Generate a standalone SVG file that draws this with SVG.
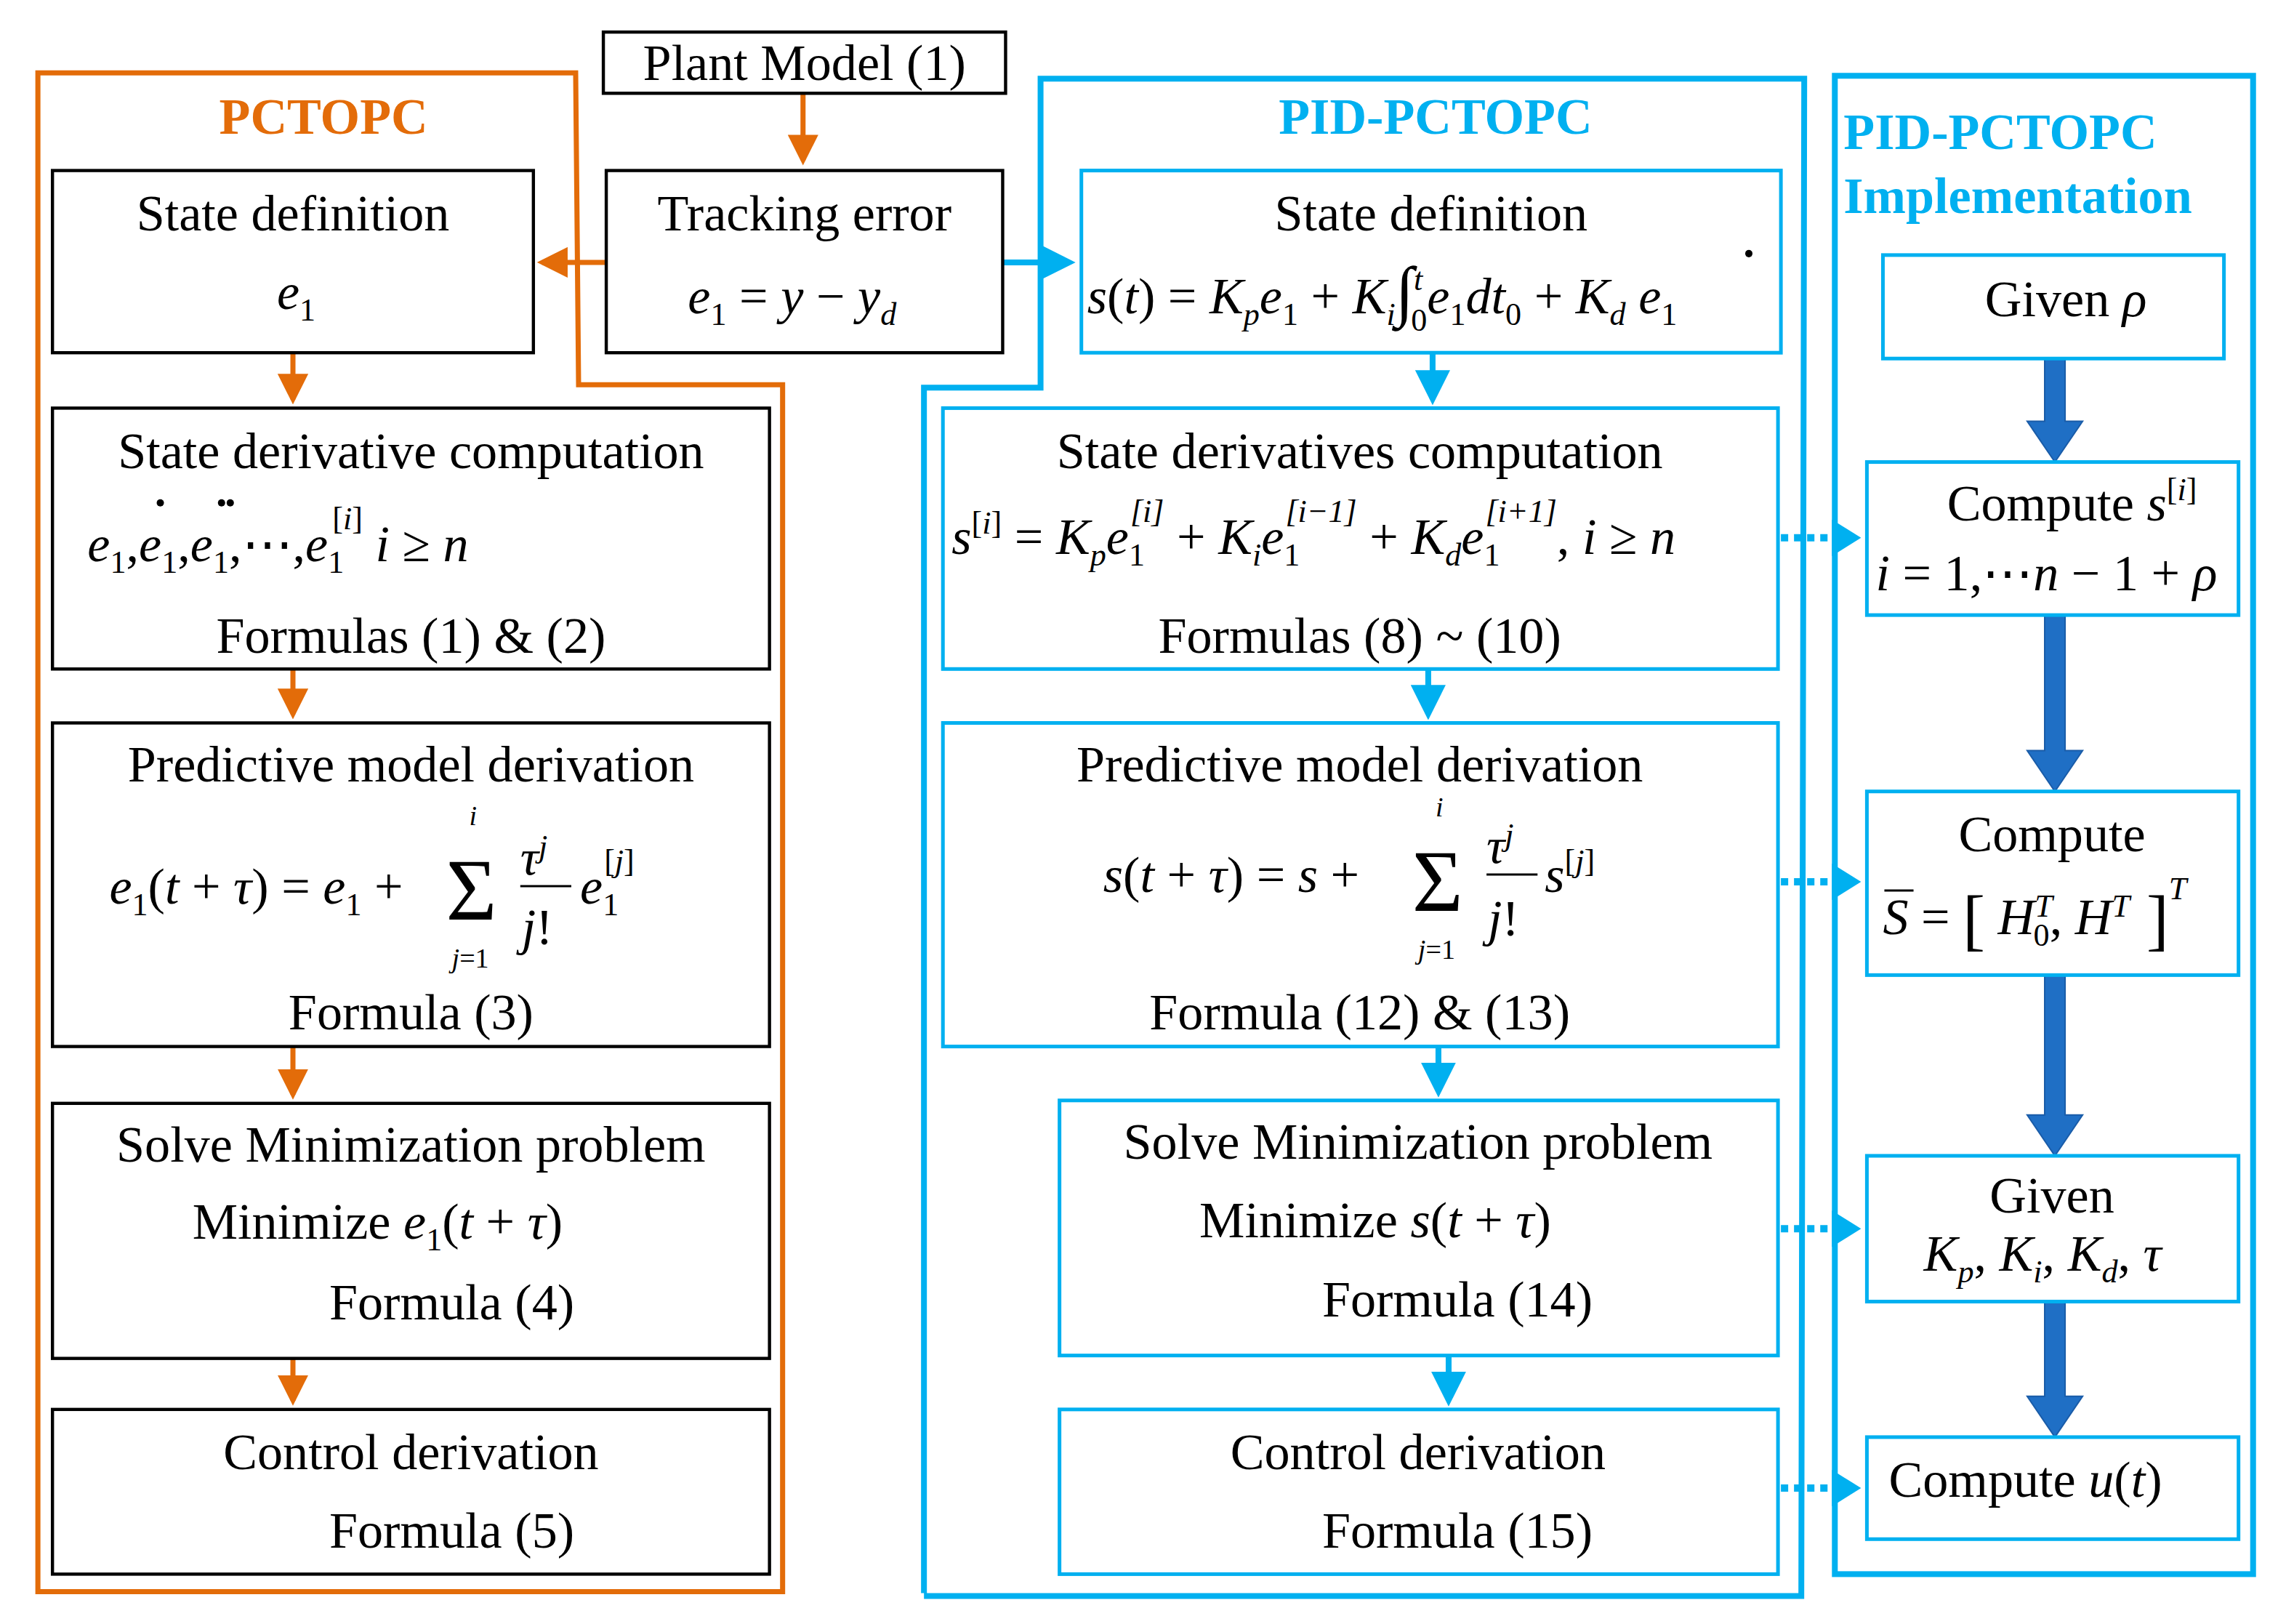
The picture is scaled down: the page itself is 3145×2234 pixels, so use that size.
<svg xmlns="http://www.w3.org/2000/svg" width="3145" height="2234" viewBox="0 0 3145 2234">
<style>
.t{font-family:"Liberation Serif",serif;font-size:35px;fill:#000}
.m{font-family:"Liberation Serif",serif;font-size:35px;font-style:italic;fill:#000}
.s{font-size:22px}
.ls{font-family:"Liberation Serif",serif;font-size:19px;font-style:italic;fill:#000}
.sg{font-family:"Liberation Serif",serif;font-size:60px;fill:#000}
.bk{fill:#fff;stroke:#000;stroke-width:2.2}
.bl{fill:#fff;stroke:#00B0F0;stroke-width:2.5}
.or{stroke:#E36C09;stroke-width:3.5;fill:none}
.cy{stroke:#00B0F0;stroke-width:4;fill:none}
.dot{stroke:#00B0F0;stroke-width:5;stroke-dasharray:5 4;fill:none}
.ttl{font-family:"Liberation Serif",serif;font-weight:bold;font-size:35px}
.fat{fill:#1F6FC5;stroke:#1A5CA8;stroke-width:1}
</style>
<defs>
<marker id="ao" markerWidth="6" markerHeight="6" refX="5" refY="3" orient="auto" markerUnits="strokeWidth"><path d="M0,0L6,3L0,6z" fill="#E36C09"/></marker>
<marker id="ab" markerWidth="6" markerHeight="6" refX="5" refY="3" orient="auto" markerUnits="strokeWidth"><path d="M0,0L6,3L0,6z" fill="#00B0F0"/></marker>
<marker id="ad" markerWidth="4" markerHeight="5" refX="3" refY="2.5" orient="auto" markerUnits="strokeWidth"><path d="M0,0L4,2.5L0,5z" fill="#00B0F0"/></marker>
</defs>
<rect width="3145" height="2234" fill="#fff"/>
<g transform="scale(2.005)">
<g id="frames">
<path class="or" d="M26,1092V50H395L397,264H537V1092Z"/>
<path class="cy" d="M634,1093V266H714V54H1238L1236,1095H634"/>
<rect class="cy" x="1259" y="52" width="287" height="1028" stroke-width="3"/>
<text class="ttl" x="222" y="92" text-anchor="middle" fill="#E36C09">PCTOPC</text>
<text class="ttl" x="985" y="92" text-anchor="middle" fill="#00B0F0">PID-PCTOPC</text>
<text class="ttl" x="1265" y="102" fill="#00B0F0">PID-PCTOPC</text>
<text class="ttl" x="1265" y="146" fill="#00B0F0">Implementation</text>
</g>
<g id="connectors">
<line class="or" x1="551" y1="64" x2="551" y2="110" marker-end="url(#ao)"/>
<line class="or" x1="416" y1="180" x2="372" y2="180" stroke-width="5" marker-end="url(#ao)"/>
<line class="or" x1="201" y1="242" x2="201" y2="274" marker-end="url(#ao)"/>
<line class="or" x1="201" y1="459" x2="201" y2="490" marker-end="url(#ao)"/>
<line class="or" x1="201" y1="718" x2="201" y2="751" marker-end="url(#ao)"/>
<line class="or" x1="201" y1="932" x2="201" y2="961" marker-end="url(#ao)"/>
<line class="cy" x1="688" y1="180" x2="734" y2="180" stroke-width="6" marker-end="url(#ab)"/>
<line class="cy" x1="983" y1="242" x2="983" y2="274" marker-end="url(#ab)"/>
<line class="cy" x1="980" y1="459" x2="980" y2="490" marker-end="url(#ab)"/>
<line class="cy" x1="987" y1="718" x2="987" y2="749" marker-end="url(#ab)"/>
<line class="cy" x1="994" y1="930" x2="994" y2="961" marker-end="url(#ab)"/>
<line class="dot" x1="1222" y1="369" x2="1272" y2="369" marker-end="url(#ad)"/>
<line class="dot" x1="1222" y1="605" x2="1272" y2="605" marker-end="url(#ad)"/>
<line class="dot" x1="1222" y1="843" x2="1272" y2="843" marker-end="url(#ad)"/>
<line class="dot" x1="1222" y1="1021" x2="1272" y2="1021" marker-end="url(#ad)"/>
<path class="fat" d="M1403,246H1417V289H1429L1410,317L1391,289H1403Z"/>
<path class="fat" d="M1403,422H1417V515H1429L1410,543L1391,515H1403Z"/>
<path class="fat" d="M1403,669H1417V765H1429L1410,793L1391,765H1403Z"/>
<path class="fat" d="M1403,893H1417V958H1429L1410,986L1391,958H1403Z"/>
</g>
<g id="plant"><rect class="bk" x="414" y="22" width="276" height="42"/><text class="t" x="552" y="55" text-anchor="middle">Plant Model (1)</text></g>
<g id="track"><rect class="bk" x="416" y="117" width="272" height="125"/><text class="t" x="552" y="158" text-anchor="middle">Tracking error</text>
<text class="m" x="472" y="215">e<tspan class="s" dy="8" font-style="normal">1</tspan><tspan dy="-8" font-style="normal"> = </tspan>y<tspan font-style="normal"> − </tspan>y<tspan class="s" dy="8">d</tspan></text></g>
<g id="l1"><rect class="bk" x="36" y="117" width="330" height="125"/><text class="t" x="201" y="158" text-anchor="middle">State definition</text><text class="m" x="190" y="212">e<tspan class="s" dy="8" font-style="normal">1</tspan></text></g>
<g id="l2"><rect class="bk" x="36" y="280" width="492" height="179"/><text class="t" x="282" y="321" text-anchor="middle">State derivative computation</text>
<text class="m" x="60" y="385">e<tspan class="s" dy="8" font-style="normal">1</tspan><tspan dy="-8" font-style="normal">,</tspan>e<tspan class="s" dy="8" font-style="normal">1</tspan><tspan dy="-8" font-style="normal">,</tspan>e<tspan class="s" dy="8" font-style="normal">1</tspan><tspan dy="-8" font-style="normal">,⋯,</tspan>e<tspan class="s" dy="8" font-style="normal">1</tspan><tspan class="s" dy="-30" dx="-8" font-style="normal">[</tspan><tspan class="s">i</tspan><tspan class="s" font-style="normal">]</tspan><tspan dy="22">   i</tspan><tspan font-style="normal"> ≥ </tspan>n</text>
<circle cx="110" cy="345" r="2.5"/><circle cx="152" cy="345" r="2.5"/><circle cx="158" cy="345" r="2.5"/>
<text class="t" x="282" y="448" text-anchor="middle">Formulas (1) &amp; (2)</text></g>
<g id="l3"><rect class="bk" x="36" y="496" width="492" height="222"/><text class="t" x="282" y="536" text-anchor="middle">Predictive model derivation</text>
<text class="m" x="75" y="620">e<tspan class="s" dy="8" font-style="normal">1</tspan><tspan dy="-8" font-style="normal">(</tspan>t<tspan font-style="normal"> + </tspan>τ<tspan font-style="normal">) = </tspan>e<tspan class="s" dy="8" font-style="normal">1</tspan><tspan dy="-8" font-style="normal"> + </tspan></text>
<text class="sg" x="306" y="631">Σ</text><text class="ls" x="322" y="566">i</text><text class="ls" x="310" y="664">j<tspan font-style="normal">=1</tspan></text>
<text class="m" x="357" y="600">τ<tspan class="s" dy="-12">j</tspan></text><line x1="357" y1="608" x2="392" y2="608" stroke="#000" stroke-width="1.5"/><text class="m" x="358" y="648">j<tspan font-style="normal">!</tspan></text>
<text class="m" x="398" y="620">e<tspan class="s" dy="8" font-style="normal">1</tspan><tspan class="s" dy="-30" dx="-10" font-style="normal">[</tspan><tspan class="s">j</tspan><tspan class="s" font-style="normal">]</tspan></text>
<text class="t" x="282" y="706" text-anchor="middle">Formula (3)</text></g>
<g id="l4"><rect class="bk" x="36" y="757" width="492" height="175"/><text class="t" x="282" y="797" text-anchor="middle">Solve Minimization problem</text>
<text class="t" x="132" y="850">Minimize  <tspan font-style="italic">e</tspan><tspan class="s" dy="8">1</tspan><tspan dy="-8">(</tspan><tspan font-style="italic">t</tspan> + <tspan font-style="italic">τ</tspan>)</text>
<text class="t" x="310" y="905" text-anchor="middle">Formula (4)</text></g>
<g id="l5"><rect class="bk" x="36" y="967" width="492" height="113"/><text class="t" x="282" y="1008" text-anchor="middle">Control derivation</text><text class="t" x="310" y="1062" text-anchor="middle">Formula (5)</text></g>
<g id="r1"><rect class="bl" x="742" y="117" width="480" height="125"/><text class="t" x="982" y="158" text-anchor="middle">State definition</text>
<text class="m" x="746" y="215">s<tspan font-style="normal">(</tspan>t<tspan font-style="normal">) = </tspan>K<tspan class="s" dy="8">p</tspan><tspan dy="-8">e</tspan><tspan class="s" dy="8" font-style="normal">1</tspan><tspan dy="-8" font-style="normal"> + </tspan>K<tspan class="s" dy="8">i</tspan><tspan dy="-8" font-style="normal" font-size="46">∫</tspan><tspan class="s" dy="-16">t</tspan><tspan class="s" dy="28" dx="-8" font-style="normal">0</tspan><tspan dy="-12">e</tspan><tspan class="s" dy="8" font-style="normal">1</tspan><tspan dy="-8">dt</tspan><tspan class="s" dy="8" font-style="normal">0</tspan><tspan dy="-8" font-style="normal"> + </tspan>K<tspan class="s" dy="8">d</tspan><tspan dy="-8"> e</tspan><tspan class="s" dy="8" font-style="normal">1</tspan></text>
<circle cx="1200" cy="174" r="2.5"/></g>
<g id="r2"><rect class="bl" x="647" y="280" width="573" height="179"/><text class="t" x="933" y="321" text-anchor="middle">State derivatives computation</text>
<text class="m" x="653" y="380">s<tspan class="s" dy="-14" font-style="normal">[</tspan><tspan class="s">i</tspan><tspan class="s" font-style="normal">]</tspan><tspan dy="14" font-style="normal"> = </tspan>K<tspan class="s" dy="8">p</tspan><tspan dy="-8">e</tspan><tspan class="s" dy="8" font-style="normal">1</tspan><tspan class="s" dy="-30" dx="-10">[i]</tspan><tspan dy="22" font-style="normal"> + </tspan>K<tspan class="s" dy="8">i</tspan><tspan dy="-8">e</tspan><tspan class="s" dy="8" font-style="normal">1</tspan><tspan class="s" dy="-30" dx="-10">[i−1]</tspan><tspan dy="22" font-style="normal"> + </tspan>K<tspan class="s" dy="8">d</tspan><tspan dy="-8">e</tspan><tspan class="s" dy="8" font-style="normal">1</tspan><tspan class="s" dy="-30" dx="-10">[i+1]</tspan><tspan dy="22" font-style="normal">,  </tspan>i<tspan font-style="normal"> ≥ </tspan>n</text>
<text class="t" x="933" y="448" text-anchor="middle">Formulas (8) ~ (10)</text></g>
<g id="r3"><rect class="bl" x="647" y="496" width="573" height="222"/><text class="t" x="933" y="536" text-anchor="middle">Predictive model derivation</text>
<text class="m" x="757" y="612">s<tspan font-style="normal">(</tspan>t<tspan font-style="normal"> + </tspan>τ<tspan font-style="normal">) = </tspan>s<tspan font-style="normal"> + </tspan></text>
<text class="sg" x="969" y="625">Σ</text><text class="ls" x="985" y="560">i</text><text class="ls" x="973" y="658">j<tspan font-style="normal">=1</tspan></text>
<text class="m" x="1020" y="592">τ<tspan class="s" dy="-12">j</tspan></text><line x1="1020" y1="600" x2="1055" y2="600" stroke="#000" stroke-width="1.5"/><text class="m" x="1021" y="642">j<tspan font-style="normal">!</tspan></text>
<text class="m" x="1060" y="612">s<tspan class="s" dy="-14" font-style="normal">[</tspan><tspan class="s">j</tspan><tspan class="s" font-style="normal">]</tspan></text>
<text class="t" x="933" y="706" text-anchor="middle">Formula (12) &amp; (13)</text></g>
<g id="r4"><rect class="bl" x="727" y="755" width="493" height="175"/><text class="t" x="973" y="795" text-anchor="middle">Solve Minimization problem</text>
<text class="t" x="823" y="849">Minimize  <tspan font-style="italic">s</tspan>(<tspan font-style="italic">t</tspan> + <tspan font-style="italic">τ</tspan>)</text>
<text class="t" x="1000" y="903" text-anchor="middle">Formula (14)</text></g>
<g id="r5"><rect class="bl" x="727" y="967" width="493" height="113"/><text class="t" x="973" y="1008" text-anchor="middle">Control derivation</text><text class="t" x="1000" y="1062" text-anchor="middle">Formula (15)</text></g>
<g id="i1"><rect class="bl" x="1292" y="175" width="234" height="71"/><text class="t" x="1362" y="217">Given  <tspan font-style="italic">ρ</tspan></text></g>
<g id="i2"><rect class="bl" x="1281" y="317" width="255" height="105"/><text class="t" x="1336" y="357">Compute <tspan font-style="italic">s</tspan><tspan class="s" dy="-14">[<tspan font-style="italic">i</tspan>]</tspan></text>
<text class="m" x="1287" y="405">i<tspan font-style="normal"> = 1,⋯</tspan>n<tspan font-style="normal"> − 1 + </tspan>ρ</text></g>
<g id="i3"><rect class="bl" x="1281" y="543" width="255" height="126"/><text class="t" x="1408" y="584" text-anchor="middle">Compute</text>
<text class="m" x="1292" y="641">S<tspan font-style="normal"> = </tspan><tspan font-style="normal" font-size="46" dy="6">[</tspan><tspan dy="-6"> H</tspan><tspan class="s" dy="-12">T</tspan><tspan class="s" dy="20" dx="-13" font-style="normal">0</tspan><tspan dy="-8" font-style="normal">, </tspan>H<tspan class="s" dy="-12">T</tspan><tspan font-style="normal" font-size="46" dy="18"> ]</tspan><tspan class="s" dy="-30">T</tspan></text>
<line x1="1293" y1="611" x2="1313" y2="611" stroke="#000" stroke-width="1.5"/></g>
<g id="i4"><rect class="bl" x="1281" y="793" width="255" height="100"/><text class="t" x="1408" y="832" text-anchor="middle">Given</text>
<text class="m" x="1320" y="872">K<tspan class="s" dy="8">p</tspan><tspan dy="-8" font-style="normal">, </tspan>K<tspan class="s" dy="8">i</tspan><tspan dy="-8" font-style="normal">, </tspan>K<tspan class="s" dy="8">d</tspan><tspan dy="-8" font-style="normal">, </tspan>τ</text></g>
<g id="i5"><rect class="bl" x="1281" y="986" width="255" height="70"/><text class="t" x="1296" y="1027">Compute  <tspan font-style="italic">u</tspan>(<tspan font-style="italic">t</tspan>)</text></g>
</g>
</svg>
